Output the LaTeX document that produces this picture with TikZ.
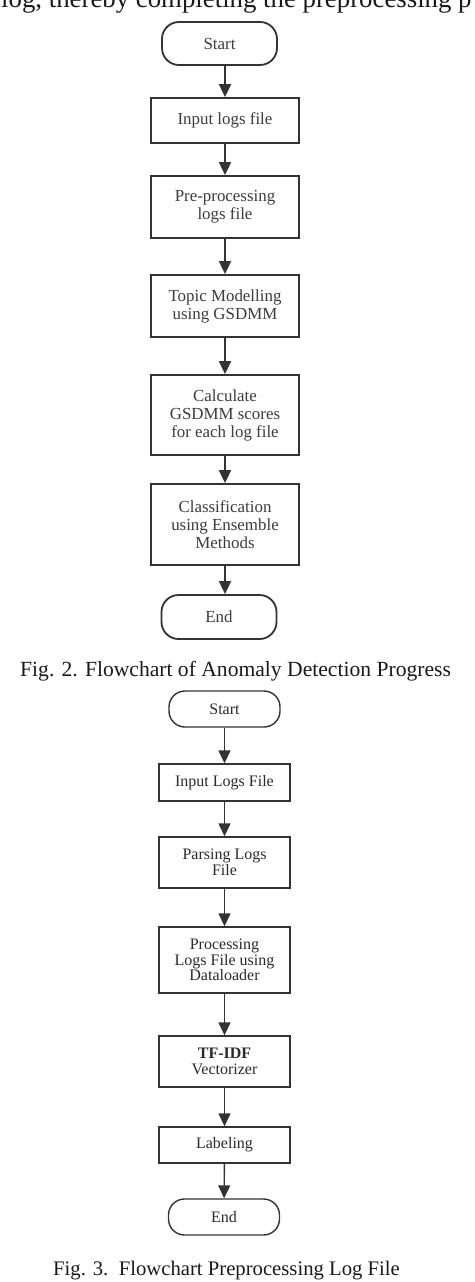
\documentclass[tikz,border=0pt]{standalone}
\usepackage{fontspec}
\setmainfont{Liberation Serif}
\usetikzlibrary{arrows.meta}
\definecolor{linec}{HTML}{333333}
\definecolor{txtA}{HTML}{3C3C3C}
\definecolor{txtB}{HTML}{2A2A2A}
\definecolor{capc}{HTML}{1A1A1A}
\begin{document}
\begin{tikzpicture}[x=1pt,y=1pt,
  boxA/.style={draw=linec, line width=1.8pt, minimum width=148pt, align=center,
    font=\fontsize{16.9}{18}\selectfont, text=txtA, inner sep=0pt},
  termA/.style={boxA, minimum width=115pt, rounded corners=17pt},
  boxB/.style={draw=linec, line width=1.4pt, minimum width=131pt, align=center,
    font=\fontsize{16}{15.5}\selectfont, text=txtB, inner sep=0pt},
  termB/.style={boxB, minimum width=111pt, rounded corners=16pt},
  arrA/.style={draw=linec, line width=1.8pt, -{Triangle[length=13pt,width=12pt]}},
  arrB/.style={draw=linec, line width=1.4pt, -{Triangle[length=13pt,width=12pt]}},
  captext/.style={inner sep=0pt, text=capc, anchor=base west}]
\useasboundingbox (0,0) rectangle (474,-1282);
\clip (0,0) rectangle (474,-1282);
\fill[white] (0,0) rectangle (474,-1282);

\node[captext, font=\fontsize{26.8}{30}\selectfont] (toptext) at (1,-8) {log, thereby completing the preprocessing p};

% Fig. 2
\node[termA, minimum height=43pt] (s1) at (219.5,-43.5) {Start};
\node[boxA, minimum height=45pt] (a1) at (225,-120.5) {Input logs file};
\node[boxA, minimum height=62pt] (a2) at (225,-207) {Pre-processing\\logs file};
\node[boxA, minimum height=62pt] (a3) at (225,-306) {Topic Modelling\\using GSDMM};
\node[boxA, minimum height=80pt] (a4) at (225,-415) {Calculate\\GSDMM scores\\for each log file};
\node[boxA, minimum height=81pt] (a5) at (225,-524.5) {Classification\\using Ensemble\\Methods};
\node[termA, minimum height=44pt] (e1) at (219,-617) {End};

\draw[arrA] (s1.south -| a1.north) -- (a1.north);
\draw[arrA] (a1) -- (a2);
\draw[arrA] (a2) -- (a3);
\draw[arrA] (a3) -- (a4);
\draw[arrA] (a4) -- (a5);
\draw[arrA] (a5.south) -- (a5.south |- e1.north);

\node[captext, font=\fontsize{21.6}{24}\selectfont] (c1) at (20,-676) {Fig. 2. Flowchart of Anomaly Detection Progress};

% Fig. 3
\node[termB, minimum height=36pt] (s2) at (224.5,-709) {Start};
\node[boxB, minimum height=37pt] (b1) at (224.5,-782.5) {Input Logs File};
\node[boxB, minimum height=51pt] (b2) at (224.5,-862.5) {Parsing Logs\\File};
\node[boxB, minimum height=66pt] (b3) at (224.5,-960) {Processing\\Logs File using\\Dataloader};
\node[boxB, minimum height=51pt] (b4) at (224.5,-1061.5) {\textbf{TF-IDF}\\Vectorizer};
\node[boxB, minimum height=36pt] (b5) at (224.5,-1145) {Labeling};
\node[termB, minimum height=36pt] (e2) at (224,-1217) {End};

\draw[arrB] (s2) -- (b1);
\draw[arrB] (b1) -- (b2);
\draw[arrB] (b2) -- (b3);
\draw[arrB] (b3) -- (b4);
\draw[arrB] (b4) -- (b5);
\draw[arrB] (b5) -- (e2);

\node[captext, font=\fontsize{20.7}{24}\selectfont] (c2) at (53,-1275) {Fig. 3.\ \ Flowchart Preprocessing Log File};
\end{tikzpicture}
\end{document}
